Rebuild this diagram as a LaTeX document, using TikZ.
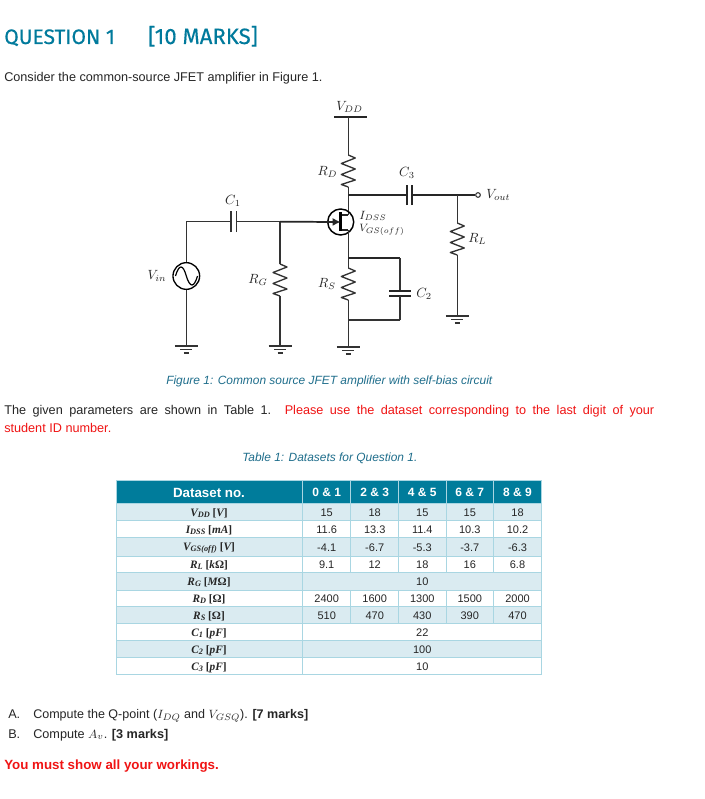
\documentclass[tikz,border=0pt]{standalone}
\usepackage{fontspec}
\setmainfont{Liberation Sans}
\newfontfamily\titlefont[FakeBold=0.4]{Fira Sans}
\newfontfamily\tabserif{Liberation Serif}
\usetikzlibrary{arrows.meta}
\definecolor{teal1}{HTML}{007A9C}
\definecolor{headbg}{HTML}{007C9B}
\definecolor{rowbg}{HTML}{DAEBF1}
\definecolor{cellline}{HTML}{A9D6E2}
\definecolor{bodyink}{HTML}{262626}
\definecolor{capink}{HTML}{1F6E8C}
\definecolor{wireink}{HTML}{333333}
\definecolor{alert}{HTML}{F01414}
\newcommand{\tm}[3]{{\tabserif\bfseries\itshape #1\raisebox{-0.3ex}{\fontsize{6.2}{6}\selectfont #2}\ \upshape[\itshape #3\upshape]}}
\newcommand{\txf}[2]{\fontsize{#1}{#2}\selectfont}
\tikzset{
  x=0.75pt,y=-0.75pt,
  wire/.style={line width=1pt,draw=wireink},
  heavy/.style={line width=1.3pt,draw=black!85},
  lab/.style={inner sep=0pt,text=black!85,font=\txf{10}{12}},
  body/.style={inner sep=0pt,anchor=base west,text=bodyink,font=\txf{9.5}{13.5}},
  capt/.style={inner sep=0pt,anchor=base west,text=capink,font=\txf{8.95}{12}\itshape},
  cell/.style={inner sep=0pt,anchor=base,text=bodyink,font=\txf{8.25}{10}},
  rowlab/.style={inner sep=0pt,anchor=base,text=black!85,font=\txf{8.5}{10}},
  hcell/.style={inner sep=0pt,anchor=base,text=white,font=\txf{9}{10}\bfseries},
  gndsym/.pic={
    \draw[wire] (-11.5,0) -- (11.5,0);
    \draw[wire] (-6,3.5) -- (6,3.5);
    \draw[wire] (-2.5,7) -- (2.5,7);
  },
  ressym/.pic={
    \draw[wire,line join=round] (0,0) -- (7,3) -- (-7,8.5) -- (7,14) -- (-7,19.5) -- (7,25) -- (-7,29.5) -- (0,32);
  }
}
\begin{document}
\begin{tikzpicture}
\useasboundingbox (0,0) rectangle (705,799);
\fill[white] (0,0) rectangle (705,799);
% headings
\node[inner sep=0pt,anchor=base west,text=teal1,font=\titlefont\txf{15.7}{16}] (qhead) at (4,44) {QUESTION 1};
\node[inner sep=0pt,anchor=base west,text=teal1,font=\titlefont\txf{16.6}{16}] (qmarks) at (148,44) {[10 MARKS]};
\node[body] (intro) at (4,81) {Consider the common-source JFET amplifier in Figure 1.};
% circuit coordinates
\coordinate (vddtop) at (348.3,117);
\coordinate (rdtop) at (348.3,155);
\coordinate (rdbot) at (348.3,187);
\coordinate (dj) at (348.3,195);
\coordinate (c3a) at (406.7,195);
\coordinate (c3b) at (411.7,195);
\coordinate (oj) at (457.3,195);
\coordinate (rltop) at (457.3,223);
\coordinate (rlbot) at (457.3,255);
\coordinate (rlg) at (457.3,316);
\coordinate (chan) at (340.7,222);
\coordinate (dr) at (348.3,215);
\coordinate (drc) at (340.7,215);
\coordinate (sr) at (348.3,230);
\coordinate (src) at (340.7,230);
\coordinate (stop) at (348.3,258);
\coordinate (rstop) at (348.3,268);
\coordinate (rsbot) at (348.3,300);
\coordinate (sj) at (348.3,320);
\coordinate (sg) at (348.3,347);
\coordinate (c2t) at (400,258);
\coordinate (c2a) at (400,291);
\coordinate (c2b) at (400,296);
\coordinate (c2e) at (400,320);
\coordinate (gl) at (186.3,221.7);
\coordinate (c1a) at (231,221.7);
\coordinate (c1b) at (236.7,221.7);
\coordinate (gj) at (280,221.7);
\coordinate (rgtop) at (280,264);
\coordinate (rgbot) at (280,296);
\coordinate (rgg) at (280,346);
\coordinate (ving) at (186.3,346);
% VDD branch
\draw[heavy] ([xshift=-10.7pt]vddtop) -- ([xshift=14pt]vddtop);
\draw[wire] (vddtop) -- (rdtop);
\pic at (rdtop) {ressym};
\draw[wire] (rdbot) -- (dj) -- (dr);
\draw[heavy] (dj) -- (c3a);
\draw[heavy] (c3b) -- (oj);
\draw[heavy] ([yshift=-7.5pt]c3a) -- ([yshift=7.5pt]c3a);
\draw[heavy] ([yshift=-7.5pt]c3b) -- ([yshift=7.5pt]c3b);
\node[circle,draw=black!80,line width=0.8pt,fill=white,inner sep=0pt,minimum size=3.5pt] (vo) at (478,195) {};
\draw[heavy] (oj) -- (vo);
\draw[wire] (oj) -- (rltop);
\pic at (rltop) {ressym};
\draw[wire] (rlbot) -- (rlg);
\pic at (rlg) {gndsym};
% JFET
\node[circle,draw=black,line width=1.1pt,inner sep=0pt,minimum size=19.5pt] (jf) at (340.7,222) {};
\draw[heavy] (dr) -- (drc);
\draw[heavy] (sr) -- (src);
\draw[line width=2pt,draw=black] (340.7,212) -- (340.7,231);
\draw[wire] (sr) -- (stop);
% gate wire
\draw[wire] (gl) -- (c1a);
\draw[wire] (c1b) -- (gj);
\draw[heavy,-{Latex[length=6pt,width=6pt]}] (gj) -- (chan);
\draw[wire] ([yshift=-7.9pt]c1a) -- ([yshift=7.9pt]c1a);
\draw[wire] ([yshift=-7.9pt]c1b) -- ([yshift=7.9pt]c1b);
% source
\draw[wire] (stop) -- (rstop);
\pic at (rstop) {ressym};
\draw[wire] (rsbot) -- (sg);
\pic at (sg) {gndsym};
\draw[heavy] (stop) -- (c2t);
\draw[wire] (c2t) -- (c2a);
\draw[heavy] ([xshift=-8.25pt]c2a) -- ([xshift=8.25pt]c2a);
\draw[heavy] ([xshift=-8.25pt]c2b) -- ([xshift=8.25pt]c2b);
\draw[wire] (c2b) -- (c2e);
\draw[wire] (c2e) -- (sj);
% RG
\draw[wire] (gj) -- (rgtop);
\pic at (rgtop) {ressym};
\draw[wire] (rgbot) -- (rgg);
\pic at (rgg) {gndsym};
% source Vin
\node[circle,draw=black,line width=1pt,inner sep=0pt,minimum size=20pt] (vin) at (186.3,276) {};
\draw[line width=0.9pt] (175.5,276) .. controls (179,264) and (183,264) .. (186.3,276) .. controls (190,288) and (194,288) .. (197.5,276);
\draw[wire] (gl) -- (vin);
\draw[wire] (vin) -- (ving);
\pic at (ving) {gndsym};
% circuit labels
\node[lab] (lvdd) at (349.5,107) {$V_{DD}$};
\node[lab] (lrd) at (327.5,172) {$R_D$};
\node[lab] (lc3) at (407,173) {$C_3$};
\node[lab,anchor=west] (lvout) at (486,195) {$V_{out}$};
\node[lab] (lc1) at (233,201) {$C_1$};
\node[lab,anchor=west] (lidss) at (359,216) {\fontsize{8.6}{10}\selectfont $I_{DSS}$};
\node[lab,anchor=west] (lvgs) at (359,230) {\fontsize{8.3}{10}\selectfont $V_{GS(off)}$};
\node[lab,anchor=west] (lrl) at (468,239) {$R_L$};
\node[lab] (lvin) at (157,276) {$V_{in}$};
\node[lab] (lrg) at (258,280) {$R_G$};
\node[lab] (lrs) at (327,284) {$R_S$};
\node[lab,anchor=west] (lc2) at (416,294) {$C_2$};
% captions and paragraph
\node[capt] (figcap) at (166,384) {Figure 1: Common source JFET amplifier with self-bias circuit};
\node[inner sep=0pt,anchor=north west,text width=487.5pt,align=justify,text=bodyink,font=\txf{9.5}{13.5}] (para) at (4,405) {The given parameters are shown in Table 1. \textcolor{alert}{Please use the dataset corresponding to the last digit of your\linebreak student ID number.}};
\node[capt] (tabcap) at (242,461) {Table 1: Datasets for Question 1.};
% table backgrounds
\fill[headbg] (116,480) rectangle (541.3,503.5);
\fill[rowbg] (116,503.5) rectangle (541.3,520.7);
\fill[rowbg] (116,537.3) rectangle (541.3,556);
\fill[rowbg] (116,572.7) rectangle (541.3,590);
\fill[rowbg] (116,606) rectangle (541.3,623.7);
\fill[rowbg] (116,640.3) rectangle (541.3,657.7);
% table lines
\draw[cellline,line width=0.6pt] (116,480) rectangle (541.3,674.3);
\foreach \yy in {503.5,520.7,537.3,556,572.7,590,606,623.7,640.3,657.7}
  \draw[cellline,line width=0.6pt] (116,\yy) -- (541.3,\yy);
\draw[cellline,line width=0.6pt] (302.7,480) -- (302.7,674.3);
\foreach \xx in {350.7,398.7,446,493.7}{
  \draw[cellline,line width=0.6pt] (\xx,480) -- (\xx,572.7);
  \draw[cellline,line width=0.6pt] (\xx,590) -- (\xx,623.7);
}
% header
\node[hcell,font=\txf{10}{10}\bfseries] (h0) at (209,497) {Dataset no.};
\node[hcell] (h1) at (326.7,496) {0 \& 1};
\node[hcell] (h2) at (374.7,496) {2 \& 3};
\node[hcell] (h3) at (422.3,496) {4 \& 5};
\node[hcell] (h4) at (469.8,496) {6 \& 7};
\node[hcell] (h5) at (517.5,496) {8 \& 9};
% row labels
\node[rowlab] (r1) at (209,516) {\tm{V}{DD}{V}};
\node[rowlab] (r2) at (209,533) {\tm{I}{DSS}{mA}};
\node[rowlab] (r3) at (209,550) {\tm{V}{GS(of\kern0.4pt f)}{V}};
\node[rowlab] (r4) at (209,568) {\tm{R}{L}{k\upshape Ω}};
\node[rowlab] (r5) at (209,585) {\tm{R}{G}{M\upshape Ω}};
\node[rowlab] (r6) at (209,602) {\tm{R}{D}{\upshape Ω}};
\node[rowlab] (r7) at (209,619) {\tm{R}{S}{\upshape Ω}};
\node[rowlab] (r8) at (209,636) {\tm{C}{1}{pF}};
\node[rowlab] (r9) at (209,653) {\tm{C}{2}{pF}};
\node[rowlab] (r10) at (209,670) {\tm{C}{3}{pF}};
% table values
\foreach \yy/\rr/\va/\vb/\vc/\vd/\ve in {
  516/a/15/18/15/15/18,
  533/b/11.6/13.3/11.4/10.3/10.2,
  551/c/-4.1/-6.7/-5.3/-3.7/-6.3,
  568/d/9.1/12/18/16/6.8,
  602/e/2400/1600/1300/1500/2000,
  619/f/510/470/430/390/470}{
  \node[cell] (v\rr1) at (326.7,\yy) {\va};
  \node[cell] (v\rr2) at (374.7,\yy) {\vb};
  \node[cell] (v\rr3) at (422.3,\yy) {\vc};
  \node[cell] (v\rr4) at (469.8,\yy) {\vd};
  \node[cell] (v\rr5) at (517.5,\yy) {\ve};
}
\node[cell] (vg) at (422.3,585) {10};
\node[cell] (vh) at (422.3,636) {22};
\node[cell] (vi) at (422.3,653) {100};
\node[cell] (vj) at (422.3,670) {10};
% questions
\node[body] (qa) at (8,718) {A.};
\node[body,font=\txf{9.4}{13.5}] (qat) at (33,718) {Compute the Q-point ($I_{DQ}$ and $V_{GSQ}$). \textbf{[7 marks]}};
\node[body] (qb) at (8,738) {B.};
\node[body] (qbt) at (33,738) {Compute $A_v$. \textbf{[3 marks]}};
\node[body,text=alert,font=\txf{10}{12}\bfseries] (must) at (4,769) {You must show all your workings.};
\end{tikzpicture}
\end{document}
